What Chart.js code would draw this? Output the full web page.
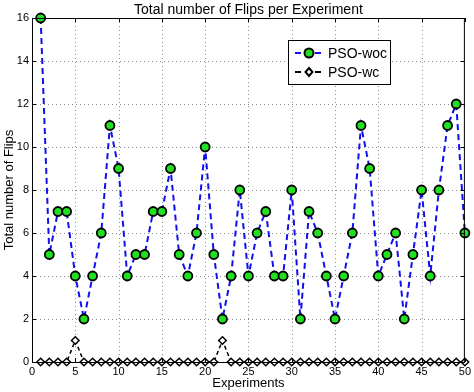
<!DOCTYPE html>
<html>
<head>
<meta charset="utf-8">
<script src="https://cdn.jsdelivr.net/npm/chart.js@4"></script>
<style>
  html, body { margin: 0; padding: 0; background: #fff; }
  #wrap { width: 474px; height: 392px; }
</style>
</head>
<body>
<div id="wrap"><canvas id="chart" width="474" height="392"></canvas></div>
<script>
// values
const experiments = [];
for (let i = 1; i <= 50; i++) experiments.push(i);

const psoWoc = [16, 5, 7, 7, 4, 2, 4, 6, 11, 9,
                4, 5, 5, 7, 7, 9, 5, 4, 6, 10,
                5, 2, 4, 8, 4, 6, 7, 4, 4, 8,
                2, 7, 6, 4, 2, 4, 6, 11, 9, 4,
                5, 6, 2, 5, 8, 4, 8, 11, 12, 6];

const psoWc = [0, 0, 0, 0, 1, 0, 0, 0, 0, 0,
               0, 0, 0, 0, 0, 0, 0, 0, 0, 0,
               0, 1, 0, 0, 0, 0, 0, 0, 0, 0,
               0, 0, 0, 0, 0, 0, 0, 0, 0, 0,
               0, 0, 0, 0, 0, 0, 0, 0, 0, 0];

const xTicks = [0, 5, 10, 15, 20, 25, 30, 35, 40, 45, 50];
const yTicks = [0, 2, 4, 6, 8, 10, 12, 14, 16];

const FONT = '"Liberation Sans", Arial, Helvetica, sans-serif';
const BLUE = '#1010ee';
const GREEN = '#20e020';

// dotted grid, frame, inward ticks, title and legend like the matlab figure
const matlabFrame = {
    id: 'matlabFrame',
    beforeDatasetsDraw(chart) {
        const ctx = chart.ctx;
        const a = chart.chartArea;
        const xs = chart.scales.x, ys = chart.scales.y;
        ctx.save();
        ctx.strokeStyle = '#8a8a8a';
        ctx.lineWidth = 1;
        ctx.setLineDash([1, 3]);
        ctx.beginPath();
        xTicks.slice(1, -1).forEach(v => {
            const px = Math.round(xs.getPixelForValue(v)) + 0.5;
            ctx.moveTo(px, a.top); ctx.lineTo(px, a.bottom);
        });
        yTicks.slice(1, -1).forEach(v => {
            const py = Math.round(ys.getPixelForValue(v)) + 0.5;
            ctx.moveTo(a.left, py); ctx.lineTo(a.right, py);
        });
        ctx.stroke();
        ctx.restore();
    },
    afterDraw(chart) {
        const ctx = chart.ctx;
        const a = chart.chartArea;
        const xs = chart.scales.x, ys = chart.scales.y;
        ctx.save();
        ctx.strokeStyle = '#000';
        ctx.lineWidth = 1;
        ctx.strokeRect(a.left + 0.5, a.top + 0.5, a.right - a.left - 1, a.bottom - a.top);
        ctx.beginPath();
        xTicks.forEach(v => {
            const px = Math.round(xs.getPixelForValue(v)) + 0.5;
            ctx.moveTo(px, a.bottom); ctx.lineTo(px, a.bottom - 4);
            ctx.moveTo(px, a.top); ctx.lineTo(px, a.top + 4);
        });
        yTicks.forEach(v => {
            const py = Math.round(ys.getPixelForValue(v)) + 0.5;
            ctx.moveTo(a.left, py); ctx.lineTo(a.left + 4, py);
            ctx.moveTo(a.right, py); ctx.lineTo(a.right - 4, py);
        });
        ctx.stroke();

        // title over the plot area
        ctx.fillStyle = '#000';
        ctx.font = '14px ' + FONT;
        ctx.textAlign = 'center';
        ctx.textBaseline = 'middle';
        ctx.fillText('Total number of Flips per Experiment', (a.left + a.right) / 2, 10);

        // legend box
        const lx = 288, ly = 40, lw = 102, lh = 44;
        ctx.fillStyle = '#fff';
        ctx.fillRect(lx, ly, lw, lh);
        ctx.strokeStyle = '#000';
        ctx.strokeRect(lx + 0.5, ly + 0.5, lw, lh);
        const rows = [
            { label: 'PSO-woc', color: BLUE, style: 'circle', fill: GREEN, y: ly + 13 },
            { label: 'PSO-wc', color: '#000', style: 'diamond', fill: '#fff', y: ly + 32 }
        ];
        rows.forEach(r => {
            ctx.strokeStyle = r.color;
            ctx.lineWidth = 2;
            ctx.setLineDash([6, 4]);
            ctx.beginPath();
            ctx.moveTo(lx + 7, r.y); ctx.lineTo(lx + 35, r.y);
            ctx.stroke();
            ctx.setLineDash([]);
            ctx.fillStyle = r.fill;
            ctx.strokeStyle = '#000';
            ctx.beginPath();
            const cx = lx + 21;
            if (r.style === 'circle') {
                ctx.arc(cx, r.y, 4.5, 0, Math.PI * 2);
            } else {
                ctx.moveTo(cx, r.y - 4); ctx.lineTo(cx + 3.5, r.y);
                ctx.lineTo(cx, r.y + 4); ctx.lineTo(cx - 3.5, r.y);
                ctx.closePath();
            }
            ctx.fill();
            ctx.stroke();
            ctx.fillStyle = '#000';
            ctx.font = '14px ' + FONT;
            ctx.textAlign = 'left';
            ctx.fillText(r.label, lx + 40, r.y + 1);
        });
        ctx.restore();
    }
};

new Chart(document.getElementById('chart'), {
    type: 'line',
    data: {
        datasets: [
            {
                label: 'PSO-woc',
                data: experiments.map((x, i) => ({ x: x, y: psoWoc[i] })),
                borderColor: BLUE,
                borderWidth: 2,
                borderDash: [6, 4],
                pointStyle: 'circle',
                pointRadius: 4.5,
                pointBackgroundColor: GREEN,
                pointBorderColor: '#000',
                pointBorderWidth: 1.8,
                tension: 0,
                clip: false
            },
            {
                label: 'PSO-wc',
                data: experiments.map((x, i) => ({ x: x, y: psoWc[i] })),
                borderColor: '#000',
                borderWidth: 1.5,
                borderDash: [4, 3],
                pointStyle: 'rectRot',
                pointRadius: 3.8,
                pointBackgroundColor: '#fff',
                pointBorderColor: '#000',
                pointBorderWidth: 1.5,
                tension: 0,
                clip: false
            }
        ]
    },
    options: {
        responsive: false,
        animation: false,
        events: [],
        layout: { padding: { top: 18, right: 7, left: 0, bottom: 0 } },
        plugins: {
            legend: { display: false },
            title: { display: false },
            tooltip: { enabled: false }
        },
        scales: {
            x: {
                type: 'linear',
                min: 0,
                max: 50,
                afterFit(scale) { scale.height = 30; },
                afterBuildTicks(scale) { scale.ticks = xTicks.map(v => ({ value: v })); },
                ticks: { color: '#000', font: { family: FONT, size: 11 }, padding: 3, maxRotation: 0 },
                grid: { display: false, drawTicks: false },
                border: { display: false },
                title: { display: true, text: 'Experiments', color: '#000', font: { family: FONT, size: 13 }, padding: { top: 0, bottom: 1 } }
            },
            y: {
                min: 0,
                max: 16,
                afterFit(scale) { scale.width = 32; },
                afterBuildTicks(scale) { scale.ticks = yTicks.map(v => ({ value: v })); },
                ticks: { color: '#000', font: { family: FONT, size: 11 }, padding: 3 },
                grid: { display: false, drawTicks: false },
                border: { display: false },
                title: { display: true, text: 'Total number of Flips', color: '#000', font: { family: FONT, size: 13 }, padding: { top: 2, bottom: 0 } }
            }
        }
    },
    plugins: [matlabFrame]
});
</script>
</body>
</html>
